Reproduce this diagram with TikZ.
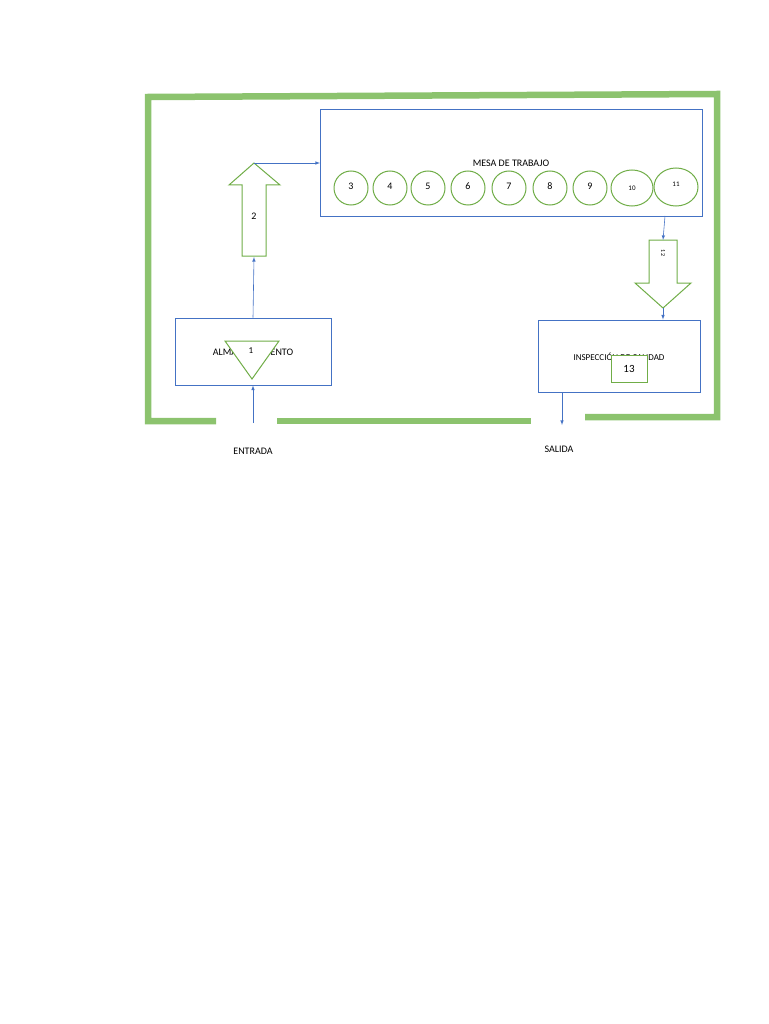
\documentclass[tikz,border=0pt]{standalone}
\usepackage{fontspec}
\setmainfont{Carlito}
\usetikzlibrary{shapes.geometric}
\definecolor{wallg}{RGB}{140,195,110}
\definecolor{lgreen}{RGB}{112,173,71}
\definecolor{lblue}{RGB}{68,114,196}
\begin{document}
\begin{tikzpicture}[x=1pt,y=-1pt,
  wall/.style={draw=wallg, line width=6.5pt},
  bbox/.style={draw=lblue, line width=0.9pt, fill=white},
  gr/.style={draw=lgreen, line width=1pt, fill=white},
  conn/.style={draw=lblue, line width=0.6pt, -latex},
  lbl/.style={font=\fontsize{10}{12}\selectfont}]
\useasboundingbox (0,0) rectangle (768,1024);
% walls
\draw[wall] (216,421) -- (148,421) -- (148,97) -- (717,94) -- (717,417) -- (585,417);
\draw[wall] (277,421) -- (531,421);
% mesa
\node[bbox, minimum width=382pt, minimum height=107pt, anchor=north west] (mesa) at (320,109) {};
\node[lbl] (mt) at (511,163) {MESA DE TRABAJO};
\foreach \n/\x in {3/351,4/390,5/428,6/468,7/509,8/550,9/590}{
  \node[gr, circle, minimum size=34pt, inner sep=0pt, lbl] (c\n) at (\x,188) {\raisebox{4pt}{\n}};
}
\node[gr, ellipse, minimum width=42pt, minimum height=36pt, inner sep=0pt, font=\fontsize{7}{8}\selectfont] (c10) at (632,188) {\raisebox{-4pt}{10}};
\node[gr, ellipse, minimum width=44pt, minimum height=38pt, inner sep=0pt, font=\fontsize{7}{8}\selectfont] (c11) at (676,187) {\raisebox{6pt}{11}};
% almacenamiento
\node[bbox, minimum width=156pt, minimum height=67pt] (alm) at (253,351.5) {};
\node[lbl] (almt) at (253,352) {ALMACENAMIENTO};
\draw[gr] (225,341) -- (279,341) -- (252,379) -- cycle;
\node[font=\fontsize{9}{10}\selectfont] (one) at (251,351) {1};
% arrow 2
\draw[gr] (242,256) -- (242,185) -- (229,185) -- (254,163) -- (280,185) -- (266,185) -- (266,256) -- cycle;
\node[lbl] (two) at (254,216) {2};
\coordinate (tip2) at (254,163);
\coordinate (bot2) at (254,257);
\draw[conn] (tip2) -- (mesa.west |- tip2);
\draw[conn] (alm.north) -- (bot2);
\coordinate (ent) at (253,423);
\draw[conn] (ent) -- (alm.south);
\node[lbl] (entrada) at (253,451) {ENTRADA};
% arrow 12
\draw[gr] (649,240) -- (677,240) -- (677,283) -- (691,283) -- (663,308) -- (635,283) -- (649,283) -- cycle;
\node[font=\fontsize{6}{7}\selectfont, rotate=-90] (twelve) at (663,253) {12};
\coordinate (top12) at (663,240);
\coordinate (tip12) at (663,308);
\coordinate (m12) at (665,216);
\draw[conn] (m12) -- (top12);
% inspeccion
\node[bbox, minimum width=162pt, minimum height=72pt] (insp) at (619,356) {};
\draw[conn] (tip12) -- (insp.north -| tip12);
\node[font=\fontsize{9}{11}\selectfont] (inspt) at (619,357) {INSPECCIÓN DE CALIDAD};
\node[gr, minimum width=36pt, minimum height=27pt, inner sep=0pt, font=\fontsize{11}{12}\selectfont] (thirteen) at (629,368.5) {13};
\coordinate (sal) at (562,425);
\draw[conn] (insp.south -| sal) -- (sal);
\node[lbl] (salida) at (559,449) {SALIDA};
\end{tikzpicture}
\end{document}
